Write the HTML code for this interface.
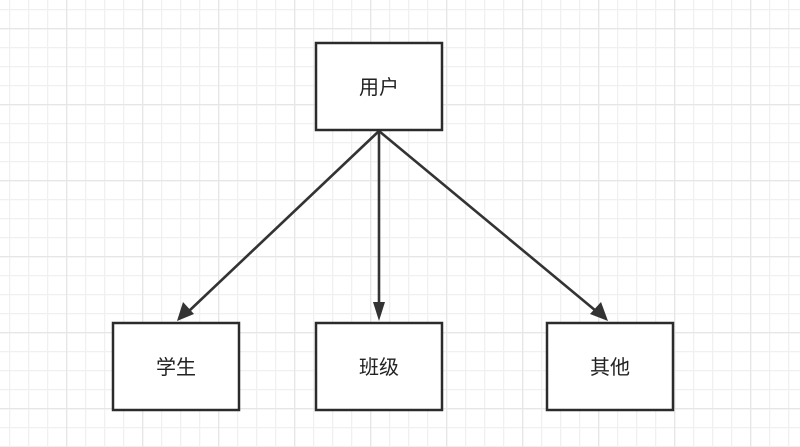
<!DOCTYPE html>
<html><head><meta charset="utf-8"><style>
html,body{margin:0;padding:0;background:#fff;}
svg{display:block}
text{font-family:"Liberation Sans","Noto Sans CJK SC",sans-serif;font-size:20px;fill:#222}
</style></head><body>
<svg width="800" height="447" viewBox="0 0 800 447" xmlns="http://www.w3.org/2000/svg">
<defs>
<pattern id="g" x="9" y="9" width="19" height="19" patternUnits="userSpaceOnUse">
<path d="M0.5 0V19M0 0.5H19" stroke="#f0f0f0" stroke-width="1.5" fill="none"/>
</pattern>
<pattern id="G" x="66" y="28" width="76" height="76" patternUnits="userSpaceOnUse">
<path d="M0.5 0V76M0 0.5H76" stroke="#e6e6e6" stroke-width="1.5" fill="none"/>
</pattern>
</defs>
<rect width="800" height="447" fill="url(#g)"/>
<rect width="800" height="447" fill="url(#G)"/>
<g stroke="#333" stroke-width="2.6" fill="none">
<line x1="379" y1="131" x2="189" y2="311"/>
<line x1="379" y1="131" x2="379" y2="306"/>
<line x1="379" y1="131" x2="596" y2="311"/>
</g>
<g fill="#333">
<polygon points="177,321 183,302 194,314"/>
<polygon points="379,321 373,302 385,302"/>
<polygon points="608,321 590,314 601,302"/>
</g>
<g fill="#fff" stroke="#2b2b2b" stroke-width="2.5">
<rect x="316" y="43" width="126" height="87"/>
<rect x="113" y="323" width="126" height="87"/>
<rect x="316" y="323" width="126" height="87"/>
<rect x="547" y="323" width="126" height="87"/>
</g>
<g text-anchor="middle">
<text x="379" y="94">用户</text>
<text x="176" y="374">学生</text>
<text x="379" y="374">班级</text>
<text x="610" y="374">其他</text>
</g>
</svg>
</body></html>
